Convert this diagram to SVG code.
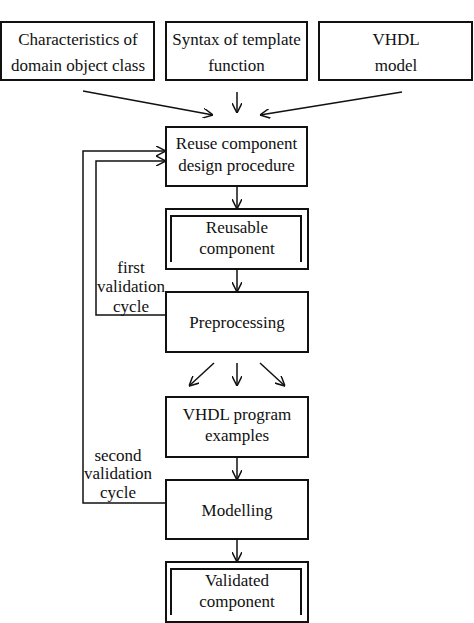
<svg xmlns="http://www.w3.org/2000/svg" width="474" height="623" viewBox="0 0 474 623">
<style>
.box{fill:#fff;stroke:#111;stroke-width:2}
.inner{fill:none;stroke:#111;stroke-width:2}
.con{fill:none;stroke:#111;stroke-width:1.5}
.arr{marker-end:url(#ah)}
</style>
<defs>
<marker id="ah" viewBox="0 0 10 10" refX="10" refY="5" markerWidth="10" markerHeight="10" markerUnits="userSpaceOnUse" orient="auto">
<path d="M0,0 L10,5 L0,10" fill="none" stroke="#111" stroke-width="1.5"/>
</marker>
</defs>
<rect width="474" height="623" fill="#fff"/>
<g font-family="Liberation Serif, 'Times New Roman', serif" font-size="17" fill="#111" text-anchor="middle">
<g id="n-characteristics">
<rect class="box" x="1" y="22" width="153" height="58"/>
<text x="78" y="45">Characteristics of</text>
<text x="78" y="71">domain object class</text>
</g>
<g id="n-syntax">
<rect class="box" x="166" y="22" width="141" height="58"/>
<text x="236.5" y="45">Syntax of template</text>
<text x="236.5" y="71">function</text>
</g>
<g id="n-vhdl-model">
<rect class="box" x="319" y="22" width="153" height="58"/>
<text x="396" y="45">VHDL</text>
<text x="396" y="71">model</text>
</g>
<g id="n-reuse">
<rect class="box" x="166" y="127" width="141" height="59"/>
<text x="236.5" y="149">Reuse component</text>
<text x="236.5" y="171">design procedure</text>
</g>
<g id="n-reusable">
<rect class="box" x="166" y="209" width="142" height="60"/>
<path class="inner" d="M171,262 V216 H301 V262"/>
<text x="237" y="233">Reusable</text>
<text x="237" y="254">component</text>
</g>
<g id="n-preprocessing">
<rect class="box" x="166" y="292" width="142" height="60"/>
<text x="237" y="328">Preprocessing</text>
</g>
<g id="n-examples">
<rect class="box" x="166" y="397" width="142" height="60"/>
<text x="237" y="420">VHDL program</text>
<text x="237" y="441">examples</text>
</g>
<g id="n-modelling">
<rect class="box" x="166" y="480" width="142" height="59"/>
<text x="237" y="516">Modelling</text>
</g>
<g id="n-validated">
<rect class="box" x="166" y="562" width="142" height="60"/>
<path class="inner" d="M171,615 V569 H301 V615"/>
<text x="237" y="586">Validated</text>
<text x="237" y="607">component</text>
</g>
<g id="connectors">
<line class="con arr" x1="83" y1="91" x2="213" y2="115"/>
<line class="con arr" x1="237" y1="92" x2="237" y2="113"/>
<line class="con arr" x1="402" y1="92" x2="260" y2="115"/>
<line class="con arr" x1="237" y1="186" x2="237" y2="209"/>
<line class="con arr" x1="237" y1="269" x2="237" y2="292"/>
<line class="con arr" x1="214" y1="363" x2="189" y2="386"/>
<line class="con arr" x1="237" y1="363" x2="237" y2="386"/>
<line class="con arr" x1="260" y1="363" x2="285" y2="386"/>
<line class="con arr" x1="237" y1="457" x2="237" y2="480"/>
<line class="con arr" x1="237" y1="539" x2="237" y2="562"/>
<path class="con arr" d="M166,315 H96 V161 H166"/>
<path class="con arr" d="M166,503 H83 V151 H166"/>
<text x="131" y="273">first</text>
<text x="131" y="292">validation</text>
<text x="131" y="312">cycle</text>
<text x="118" y="461">second</text>
<text x="118" y="479">validation</text>
<text x="118" y="498">cycle</text>
</g>
</g>
</svg>
